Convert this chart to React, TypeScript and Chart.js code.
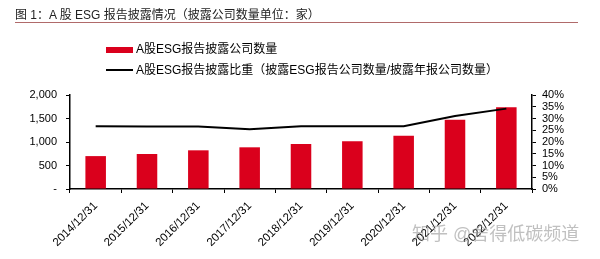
import React, { useEffect, useRef } from "react";
import { Chart, registerables } from "chart.js";

Chart.register(...registerables);

const categories = [
  "2014/12/31", "2015/12/31", "2016/12/31", "2017/12/31", "2018/12/31",
  "2019/12/31", "2020/12/31", "2021/12/31", "2022/12/31",
];
const companyCounts = [700, 745, 823, 887, 957, 1015, 1134, 1475, 1738];
const disclosureRatio = [26.7, 26.6, 26.6, 25.4, 26.7, 26.7, 26.7, 31.1, 34.2];
const barLabel = "A股ESG报告披露公司数量";
const lineLabel = "A股ESG报告披露比重（披露ESG报告公司数量/披露年报公司数量）";
const titleText = "图 1：A 股 ESG 报告披露情况（披露公司数量单位：家）";
const watermark = "知乎 @舍得低碳频道";

const RED = "rgb(218,0,28)";
const FONT = '"Liberation Sans", Arial, "Noto Sans CJK SC", sans-serif';

export default function App() {
  const ref = useRef<HTMLCanvasElement | null>(null);

  useEffect(() => {
    if (!ref.current) return;
    const chart = new Chart(ref.current, {
      data: {
        labels: categories,
        datasets: [
          {
            type: "line",
            label: lineLabel,
            data: disclosureRatio,
            yAxisID: "y1",
            borderColor: "#000",
            borderWidth: 2,
            pointRadius: 0,
            tension: 0,
            order: 0,
          },
          {
            type: "bar",
            label: barLabel,
            data: companyCounts,
            yAxisID: "y",
            backgroundColor: RED,
            barPercentage: 0.4,
            categoryPercentage: 1,
            order: 1,
          },
        ],
      },
      options: {
        animation: false,
        responsive: false,
        layout: { padding: { top: 95, left: 0, right: 0, bottom: 0 } },
        plugins: { legend: { display: false }, tooltip: { enabled: false }, title: { display: false } },
        scales: {
          x: {
            offset: true,
            grid: { display: true, drawOnChartArea: false, drawTicks: true, tickLength: 4, color: "#000", offset: true },
            border: { display: true, color: "#000", width: 1.5 },
            ticks: {
              color: "#000",
              font: { family: FONT, size: 11.5 },
              minRotation: 45,
              maxRotation: 45,
              autoSkip: false,
              padding: 6,
            },
            afterFit: (s: any) => { s.height = 70; },
          },
          y: {
            position: "left",
            min: 0,
            max: 2000,
            grid: { display: true, drawOnChartArea: false, drawTicks: true, tickLength: 4, color: "#000" },
            border: { display: true, color: "#000", width: 1.5 },
            ticks: {
              stepSize: 500,
              color: "#000",
              font: { family: FONT, size: 11 },
              padding: 9,
              callback: (v: any) => (Number(v) === 0 ? "-" : Number(v).toLocaleString("en-US")),
            },
            afterFit: (s: any) => { s.width = 70; },
          },
          y1: {
            position: "right",
            min: 0,
            max: 40,
            grid: { display: true, drawOnChartArea: false, drawTicks: true, tickLength: 4, color: "#000" },
            border: { display: true, color: "#000", width: 1.5 },
            ticks: {
              stepSize: 5,
              autoSkip: false,
              color: "#000",
              font: { family: FONT, size: 11 },
              padding: 6,
              callback: (v: any) => `${v}%`,
            },
            afterFit: (s: any) => { s.width = 68; },
          },
        },
      },
    } as any);
    return () => chart.destroy();
  }, []);

  const txt = { position: "absolute" as const, fontFamily: FONT, whiteSpace: "nowrap" as const };

  return (
    <div style={{ position: "fixed", left: 0, top: 0, width: 600, height: 259, background: "#fff", overflow: "hidden", fontFamily: FONT }}>
      <canvas ref={ref} width={600} height={259} style={{ position: "absolute", left: 0, top: 0, width: 600, height: 259 }} />
      <div style={{ ...txt, left: 15, top: 8, fontSize: 12, lineHeight: "14px", color: "#222" }}>{titleText}</div>
      <div style={{ position: "absolute", left: 15, top: 22, width: 563, height: 1, background: "#b06a6a" }} />
      <div style={{ position: "absolute", left: 106, top: 47, width: 27, height: 6, background: RED }} />
      <div style={{ ...txt, left: 136, top: 42, fontSize: 12, lineHeight: "14px", color: "#000" }}>{barLabel}</div>
      <div style={{ position: "absolute", left: 106, top: 69, width: 27, height: 1.5, background: "#000" }} />
      <div style={{ ...txt, left: 136, top: 63, fontSize: 12, lineHeight: "14px", color: "#000" }}>{lineLabel}</div>
      <div style={{ ...txt, left: 412, top: 224, fontSize: 18, lineHeight: "20px", color: "rgba(140,140,140,0.55)" }}>{watermark}</div>
    </div>
  );
}
